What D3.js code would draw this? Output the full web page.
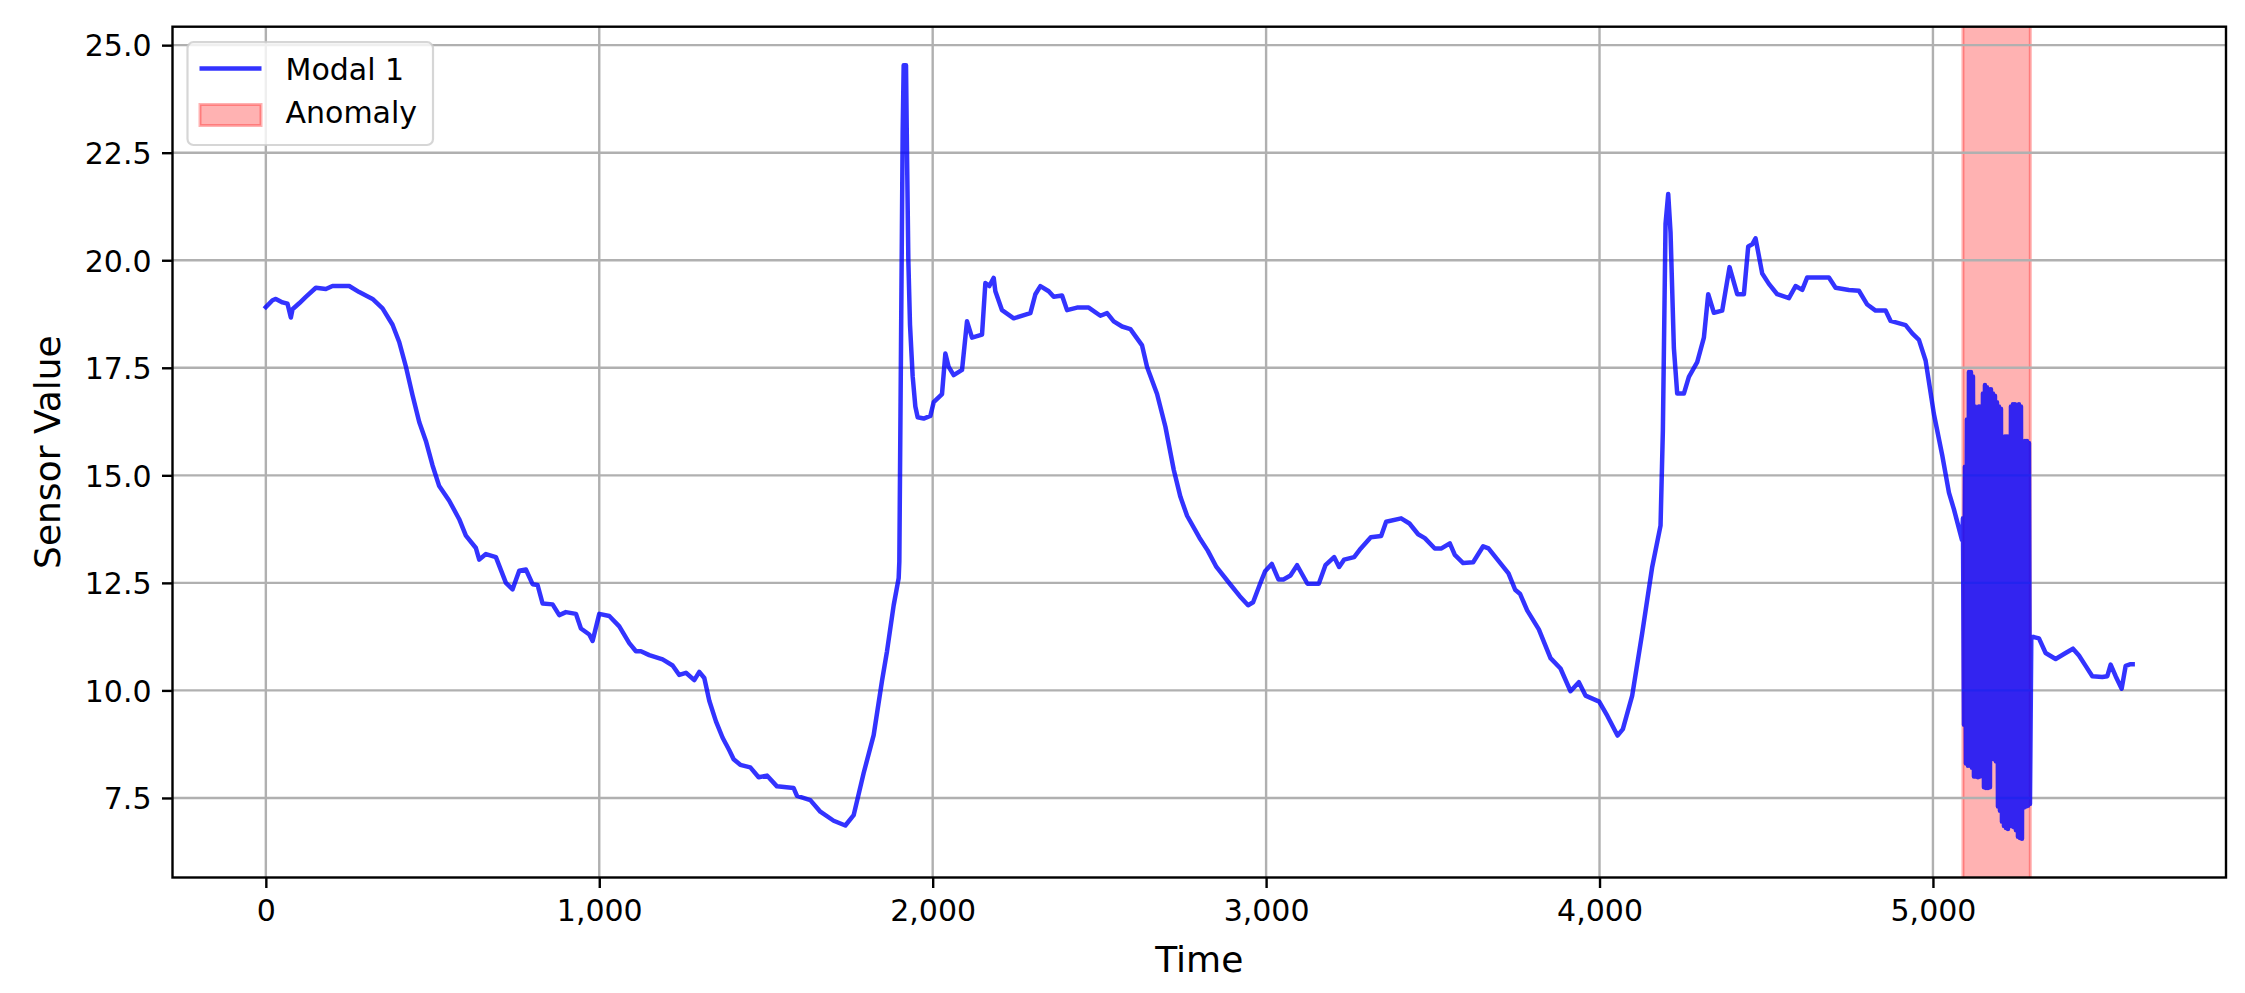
<!DOCTYPE html>
<html>
<head>
<meta charset="utf-8">
<script src="https://cdn.jsdelivr.net/npm/d3@7"></script>
<style>
  html, body { margin: 0; padding: 0; background: #ffffff; }
  svg { display: block; }
  text { font-family: "DejaVu Sans", sans-serif; fill: #000; }
</style>
</head>
<body>
<svg id="chart" width="2245" height="993"></svg>
<script>
// ---------------- data ----------------
const seriesTime = [
  0, 20, 30, 50, 65, 75, 80, 100, 120, 150, 180, 200, 250, 280, 320, 350, 380, 400, 420, 440,
  460, 480, 500, 520, 550, 580, 600, 630, 640, 660, 690, 720, 740, 760, 780, 800, 815, 830, 860, 880,
  900, 930, 945, 970, 980, 1000, 1030, 1060, 1090, 1110, 1125, 1150, 1190, 1220, 1240, 1260, 1285, 1300, 1315, 1330,
  1350, 1370, 1390, 1403, 1423, 1453, 1478, 1503, 1533, 1583, 1593, 1633, 1663, 1703, 1738, 1763, 1793, 1823, 1848, 1863,
  1883, 1898, 1900, 1905, 1910, 1913, 1920, 1923, 1927, 1932, 1940, 1948, 1955, 1973, 1993, 2003, 2028, 2038, 2048, 2063,
  2088, 2103, 2118, 2148, 2158, 2170, 2183, 2188, 2208, 2243, 2293, 2308, 2323, 2348, 2363, 2388, 2403, 2433, 2468, 2503,
  2523, 2543, 2568, 2593, 2628, 2643, 2673, 2698, 2723, 2743, 2763, 2800, 2825, 2851, 2891, 2921, 2946, 2961, 2982, 2997,
  3017, 3037, 3052, 3073, 3093, 3124, 3158, 3178, 3204, 3219, 3234, 3264, 3284, 3314, 3345, 3360, 3405, 3430, 3456, 3476,
  3506, 3526, 3551, 3566, 3591, 3621, 3651, 3667, 3697, 3727, 3747, 3762, 3783, 3818, 3853, 3883, 3913, 3938, 3958, 3999,
  4024, 4054, 4070, 4098, 4128, 4158, 4183, 4190, 4198, 4206, 4213, 4223, 4233, 4253, 4268, 4293, 4313, 4326, 4343, 4368,
  4390, 4413, 4433, 4446, 4458, 4468, 4488, 4508, 4533, 4568, 4588, 4608, 4623, 4668, 4688, 4708, 4748, 4778, 4803, 4828,
  4858, 4873, 4918, 4938, 4958, 4978, 5003, 5028, 5048, 5063, 5087
];
const seriesValue = [
  18.91, 19.07, 19.10, 19.02, 18.99, 18.67, 18.86, 19.00, 19.15, 19.36, 19.33, 19.40, 19.40, 19.26, 19.10, 18.88, 18.50, 18.10, 17.53, 16.86,
  16.24, 15.80, 15.23, 14.75, 14.41, 13.98, 13.60, 13.31, 13.04, 13.17, 13.10, 12.50, 12.35, 12.78, 12.81, 12.47, 12.45, 12.02, 12.00, 11.75,
  11.82, 11.78, 11.44, 11.30, 11.15, 11.78, 11.73, 11.49, 11.10, 10.91, 10.91, 10.82, 10.72, 10.58, 10.36, 10.41, 10.24, 10.43, 10.29, 9.76,
  9.28, 8.90, 8.61, 8.40, 8.27, 8.21, 7.98, 8.02, 7.77, 7.73, 7.55, 7.45, 7.18, 6.97, 6.86, 7.10, 8.08, 8.96, 10.22, 10.91,
  11.98, 12.61, 13.00, 18.00, 23.00, 24.53, 24.53, 22.50, 20.00, 18.50, 17.30, 16.60, 16.35, 16.32, 16.38, 16.70, 16.89, 17.83, 17.52, 17.33,
  17.45, 18.58, 18.20, 18.27, 19.47, 19.40, 19.59, 19.28, 18.84, 18.65, 18.77, 19.21, 19.40, 19.28, 19.15, 19.18, 18.84, 18.90, 18.90, 18.71,
  18.77, 18.58, 18.46, 18.40, 18.02, 17.52, 16.89, 16.13, 15.13, 14.50, 14.06, 13.55, 13.25, 12.87, 12.48, 12.19, 11.98, 12.05, 12.48, 12.77,
  12.94, 12.58, 12.58, 12.67, 12.91, 12.48, 12.48, 12.91, 13.10, 12.87, 13.04, 13.10, 13.30, 13.56, 13.59, 13.92, 14.00, 13.88, 13.63, 13.54,
  13.30, 13.30, 13.42, 13.15, 12.96, 12.98, 13.35, 13.30, 13.01, 12.72, 12.34, 12.24, 11.86, 11.42, 10.75, 10.51, 9.98, 10.19, 9.88, 9.74,
  9.40, 8.95, 9.10, 9.88, 11.33, 12.87, 13.83, 16.04, 20.85, 21.54, 20.65, 17.96, 16.90, 16.90, 17.29, 17.63, 18.20, 19.21, 18.78, 18.83,
  19.84, 19.21, 19.21, 20.32, 20.37, 20.51, 19.69, 19.45, 19.21, 19.12, 19.40, 19.31, 19.60, 19.60, 19.60, 19.36, 19.31, 19.29, 18.97, 18.83,
  18.83, 18.59, 18.49, 18.30, 18.15, 17.67, 16.42, 15.46, 14.60, 14.21, 13.50
];
// anomaly burst: alternating high / low samples every 3 time steps
const burstStart = 5090;
const burstStep = 3;
const burstHigh = [
  14.0, 15.2, 16.3, 17.4, 17.4, 17.3, 16.6, 16.5, 16.6, 16.6, 16.9, 17.1, 17.05, 17.0, 17.0, 16.9, 16.85,
  16.7, 16.6, 16.55, 15.4, 15.9, 15.9, 15.9, 16.6, 16.65, 16.65, 15.0, 16.65, 16.6, 14.7, 15.8, 15.8, 15.75
];
const burstLow = [
  9.2, 8.3, 8.25, 8.25, 8.2, 8.0, 8.0, 7.98, 8.0, 9.5, 7.75, 7.73, 7.73, 7.75, 8.7, 8.4, 8.35,
  7.3, 7.2, 6.95, 6.85, 6.8, 6.78, 6.86, 6.84, 6.82, 6.75, 6.6, 6.57, 6.55, 7.28, 7.3, 7.32, 7.36
];
const tailTime  = [5295, 5303, 5318, 5338, 5368, 5398, 5420, 5438, 5458, 5478, 5508, 5523, 5533, 5548, 5566, 5578, 5593, 5599];
const tailValue = [11.25, 11.24, 11.21, 10.87, 10.73, 10.87, 10.97, 10.81, 10.57, 10.33, 10.31, 10.33, 10.60, 10.33, 10.04, 10.57, 10.61, 10.61];

const anomalyStart = 5090;
const anomalyEnd = 5292;

const xTicks = [0, 1000, 2000, 3000, 4000, 5000];
const yTicks = [7.5, 10.0, 12.5, 15.0, 17.5, 20.0, 22.5, 25.0];

const seriesLabel = "Modal 1";
const anomalyLabel = "Anomaly";
const xLabel = "Time";
const yLabel = "Sensor Value";

// ---------------- assemble series ----------------
const points = [];
seriesTime.forEach((t, i) => points.push([t, seriesValue[i]]));
burstHigh.forEach((h, i) => {
  points.push([burstStart + (2 * i) * burstStep, h]);
  points.push([burstStart + (2 * i + 1) * burstStep, burstLow[i]]);
});
tailTime.forEach((t, i) => points.push([t, tailValue[i]]));

// ---------------- layout ----------------
const W = 2245, H = 993;
const plot = { left: 172.5, top: 26.7, right: 2226, bottom: 877.5 };
const PT = 3.0;                 // px per point
const tickFont = 10 * PT;       // 30px
const labelFont = 12 * PT;      // 36px

const svg = d3.select("#chart");

const xExt = d3.extent(points, d => d[0]);
const yExt = d3.extent(points, d => d[1]);
const xPad = (xExt[1] - xExt[0]) * 0.05;
const yPad = (yExt[1] - yExt[0]) * 0.05;

const x = d3.scaleLinear().domain([xExt[0] - xPad, xExt[1] + xPad]).range([plot.left, plot.right]);
const y = d3.scaleLinear().domain([yExt[0] - yPad, yExt[1] + yPad]).range([plot.bottom, plot.top]);

// clip for plot area
svg.append("defs").append("clipPath").attr("id", "clip")
  .append("rect").attr("x", plot.left).attr("y", plot.top)
  .attr("width", plot.right - plot.left).attr("height", plot.bottom - plot.top);

const area = svg.append("g").attr("clip-path", "url(#clip)");

// anomaly span
area.append("rect")
  .attr("x", x(anomalyStart))
  .attr("y", plot.top - 5)
  .attr("width", x(anomalyEnd) - x(anomalyStart))
  .attr("height", plot.bottom - plot.top + 10)
  .attr("fill", "rgba(255,0,0,0.3)")
  .attr("stroke", "rgba(255,0,0,0.3)")
  .attr("stroke-width", 1 * PT);

// grid
const gridColor = "#b0b0b0";
area.append("g").selectAll("line").data(xTicks).join("line")
  .attr("x1", d => x(d)).attr("x2", d => x(d))
  .attr("y1", plot.top).attr("y2", plot.bottom)
  .attr("stroke", gridColor).attr("stroke-width", 0.8 * PT);
area.append("g").selectAll("line").data(yTicks).join("line")
  .attr("x1", plot.left).attr("x2", plot.right)
  .attr("y1", d => y(d)).attr("y2", d => y(d))
  .attr("stroke", gridColor).attr("stroke-width", 0.8 * PT);

// series line
const line = d3.line().x(d => x(d[0])).y(d => y(d[1]));
area.append("path")
  .datum(points)
  .attr("d", line)
  .attr("fill", "none")
  .attr("stroke", "#0000ff")
  .attr("stroke-opacity", 0.8)
  .attr("stroke-width", 1.5 * PT)
  .attr("stroke-linejoin", "round")
  .attr("stroke-linecap", "square");

// axes
const xAxis = d3.axisBottom(x).tickValues(xTicks).tickFormat(d3.format(",")).tickSize(3.5 * PT).tickPadding(3.5 * PT);
const yAxis = d3.axisLeft(y).tickValues(yTicks).tickFormat(d3.format(".1f")).tickSize(3.5 * PT).tickPadding(3.5 * PT);

const gx = svg.append("g").attr("transform", `translate(0,${plot.bottom})`).call(xAxis);
const gy = svg.append("g").attr("transform", `translate(${plot.left},0)`).call(yAxis);
[gx, gy].forEach(g => {
  g.select(".domain").remove();
  g.selectAll(".tick line").attr("stroke", "#000").attr("stroke-width", 0.8 * PT);
  g.selectAll(".tick text").attr("font-size", tickFont).attr("font-family", "DejaVu Sans").attr("fill", "#000");
});
gx.selectAll(".tick text").attr("dy", "0.76em");
gy.selectAll(".tick text").attr("dy", "0.36em");

// spines
svg.append("rect")
  .attr("x", plot.left).attr("y", plot.top)
  .attr("width", plot.right - plot.left).attr("height", plot.bottom - plot.top)
  .attr("fill", "none").attr("stroke", "#000").attr("stroke-width", 0.8 * PT);

// axis labels
svg.append("text")
  .attr("x", (plot.left + plot.right) / 2).attr("y", 972)
  .attr("text-anchor", "middle").attr("font-size", labelFont)
  .text(xLabel);
svg.append("text")
  .attr("transform", `translate(60,${(plot.top + plot.bottom) / 2}) rotate(-90)`)
  .attr("text-anchor", "middle").attr("font-size", labelFont)
  .text(yLabel);

// legend
const lg = svg.append("g");
const lx = 187.5, ly = 42.2, lw = 245.5, lh = 102.8;
lg.append("rect")
  .attr("x", lx).attr("y", ly).attr("width", lw).attr("height", lh)
  .attr("rx", 6).attr("ry", 6)
  .attr("fill", "rgba(255,255,255,0.8)")
  .attr("stroke", "rgba(204,204,204,0.8)").attr("stroke-width", 2.2);
lg.append("line")
  .attr("x1", lx + 12).attr("x2", lx + 74)
  .attr("y1", 68.5).attr("y2", 68.5)
  .attr("stroke", "#0000ff").attr("stroke-opacity", 0.8)
  .attr("stroke-width", 1.5 * PT);
lg.append("rect")
  .attr("x", lx + 12.5).attr("y", 104.5).attr("width", 61).attr("height", 21)
  .attr("fill", "rgba(255,0,0,0.3)")
  .attr("stroke", "rgba(255,0,0,0.3)").attr("stroke-width", 1 * PT);
lg.append("text").attr("x", 285.5).attr("y", 79.5).attr("font-size", tickFont).text(seriesLabel);
lg.append("text").attr("x", 285.5).attr("y", 122.5).attr("font-size", tickFont).text(anomalyLabel);
</script>
</body>
</html>
